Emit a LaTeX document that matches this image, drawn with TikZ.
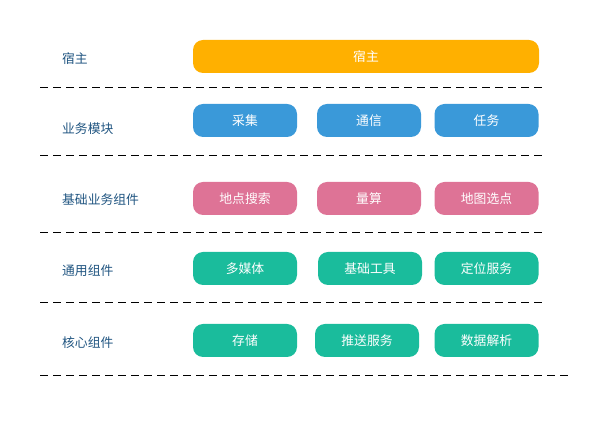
\documentclass[tikz,border=0pt]{standalone}
\usepackage{fontspec}
\usepackage{xcolor}
\usepackage{tikz}
\usetikzlibrary{positioning}
\newfontfamily\cjk{Noto Sans CJK SC}
\definecolor{layHost}{RGB}{255, 176, 0}
\definecolor{layBlue}{RGB}{58, 153, 217}
\definecolor{layPink}{RGB}{222, 115, 150}
\definecolor{layTeal}{RGB}{26, 188, 156}
\definecolor{layText}{RGB}{31, 84, 128}
\tikzset{
    base/.style={
        font=\cjk\fontsize{12.8}{14}\selectfont,
        align=center
    },
    module/.style={
        base,
        rectangle,
        rounded corners=10pt,
        text=white,
        minimum width=104pt,
        minimum height=33pt,
        inner sep=0pt
    },
    layer/.style={
        base,
        anchor=west,
        inner sep=0pt,
        text=layText
    },
    divider/.style={
        black,
        line width=0.9pt,
        dash pattern=on 8pt off 5pt
    }
}
\begin{document}
\begin{tikzpicture}[x=1pt, y=-1pt]
  \useasboundingbox (0,0) rectangle (606,435);

  % Host
  \node[layer] (lHost) at (62,59) {宿主};
  \node[module, fill=layHost, minimum width=346pt] (host) at (366,56.5) {宿主};

  % Business modules
  \node[layer] (lBiz) at (62,129) {业务模块};
  \node[module, fill=layBlue] (collect) at (245,120.5) {采集};
  \node[module, fill=layBlue] (comm) at (369,120.5) {通信};
  \node[module, fill=layBlue] (task) at (486.5,120.5) {任务};

  % Basic business components
  \node[layer] (lBase) at (62,200) {基础业务组件};
  \node[module, fill=layPink] (search) at (245,198.5) {地点搜索};
  \node[module, fill=layPink] (measure) at (369,198.5) {量算};
  \node[module, fill=layPink] (pick) at (486.5,198.5) {地图选点};

  % Common components
  \node[layer] (lCommon) at (62,271) {通用组件};
  \node[module, fill=layTeal] (media) at (245,268.5) {多媒体};
  \node[module, fill=layTeal] (tools) at (370,268.5) {基础工具};
  \node[module, fill=layTeal] (locate) at (486.5,268.5) {定位服务};

  % Core components
  \node[layer] (lCore) at (62,343) {核心组件};
  \node[module, fill=layTeal] (store) at (245,340.5) {存储};
  \node[module, fill=layTeal] (push) at (367,340.5) {推送服务};
  \node[module, fill=layTeal] (parse) at (486.5,340.5) {数据解析};

  % Dividers
  \foreach \y in {87,155,232,302}
    \draw[divider] (40,\y) -- (545,\y);
  \draw[divider] (40,375) -- (568,375);
\end{tikzpicture}
\end{document}
